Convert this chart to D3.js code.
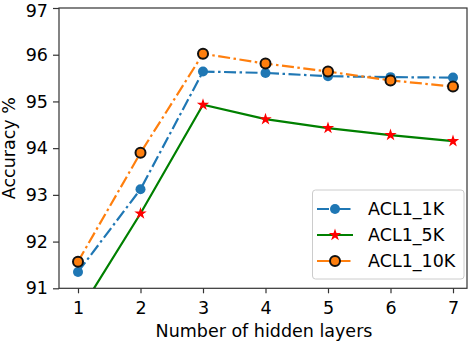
<!DOCTYPE html>
<html><head><meta charset="utf-8">
<script src="https://cdn.jsdelivr.net/npm/d3@7"></script>
<style>body{margin:0;background:#fff}svg{display:block}text{font-family:"DejaVu Sans",sans-serif}</style>
</head><body><svg id="c" width="474" height="344"></svg>
<script>
const layers = [1,2,3,4,5,6,7];
const acl1K  = [91.35, 93.12, 95.64, 95.61, 95.54, 95.52, 95.51];
const acl5K  = [90.45, 92.60, 94.93, 94.62, 94.43, 94.28, 94.15];
const acl10K = [91.57, 93.90, 96.02, 95.81, 95.64, 95.45, 95.32];
const yTicks = [91,92,93,94,95,96,97];
const seriesNames = ["ACL1_1K","ACL1_5K","ACL1_10K"];

const FS = 17.5;
const svg = d3.select("#c");
const L=59, R=467, T=8, B=288.3;
const x = d3.scaleLinear().domain([0.696,7.224]).range([L,R]);
const y = d3.scaleLinear().domain([91,97]).range([B,T]);

svg.append("clipPath").attr("id","pc").append("rect")
  .attr("x",L).attr("y",T).attr("width",R-L).attr("height",B-T);

const DASH = "12,3.5,2.5,3.5";
const series = [
  {name:seriesNames[0], vals:acl1K, color:"#1f77b4", dash:DASH, marker:"circle"},
  {name:seriesNames[1], vals:acl5K, color:"#008000", dash:null, marker:"star"},
  {name:seriesNames[2], vals:acl10K, color:"#ff7f0e", dash:DASH, marker:"ecircle"}
];
const line = d3.line().x((d,i)=>x(layers[i])).y(d=>y(d));
const star = d3.symbol().type(d3.symbolStar).size(48);

const g = svg.append("g").attr("clip-path","url(#pc)");
series.forEach(s=>{
  g.append("path").attr("d",line(s.vals)).attr("fill","none")
    .attr("stroke",s.color).attr("stroke-width",2.2)
    .attr("stroke-dasharray",s.dash);
});
function drawMarker(sel, s, cx, cy){
  if(s.marker==="circle") sel.append("circle").attr("cx",cx).attr("cy",cy).attr("r",5).attr("fill",s.color);
  else if(s.marker==="star") sel.append("path").attr("d",star()).attr("transform",`translate(${cx},${cy})`).attr("fill","#ff0000");
  else sel.append("circle").attr("cx",cx).attr("cy",cy).attr("r",5).attr("fill",s.color).attr("stroke","#111").attr("stroke-width",2);
}
series.forEach(s=>{
  s.vals.forEach((v,i)=>drawMarker(g,s,x(layers[i]),y(v)));
});

svg.append("rect").attr("x",L).attr("y",T).attr("width",R-L).attr("height",B-T)
  .attr("fill","none").attr("stroke","#333").attr("stroke-width",1.2);

const xa = svg.append("g").attr("transform",`translate(0,${B})`)
  .call(d3.axisBottom(x).tickValues(layers).tickFormat(d3.format("d")).tickSize(5).tickPadding(8.5));
const ya = svg.append("g").attr("transform",`translate(${L},0)`)
  .call(d3.axisLeft(y).tickValues(yTicks).tickFormat(d3.format("d")).tickSize(6).tickPadding(5));
[xa,ya].forEach(a=>{
  a.select(".domain").remove();
  a.selectAll("line").attr("stroke","#333").attr("stroke-width",1.2);
  a.selectAll("text").attr("font-size",FS).attr("fill","#000").style("font-family","DejaVu Sans");
});
ya.selectAll(".tick text").filter(d=>d===97).attr("dy","0.5em");

svg.append("text").attr("x",264).attr("y",337).attr("text-anchor","middle")
  .attr("font-size",FS).text("Number of hidden layers");
svg.append("text").attr("transform",`translate(15,${(T+B)/2}) rotate(-90)`).attr("text-anchor","middle")
  .attr("font-size",FS).text("Accuracy %");

const lg = svg.append("g");
lg.append("rect").attr("x",312.5).attr("y",190).attr("width",151.5).attr("height",89)
  .attr("rx",3).attr("fill","#fff").attr("fill-opacity",0.9).attr("stroke","#ccc").attr("stroke-width",1);
const rowsY=[209,235,261];
series.forEach((s,i)=>{
  const yy=rowsY[i];
  lg.append("path").attr("d",`M317,${yy}H353`).attr("stroke",s.color).attr("stroke-width",2.2)
    .attr("fill","none").attr("stroke-dasharray",s.dash);
  drawMarker(lg,s,335,yy);
  lg.append("text").attr("x",368).attr("y",yy+6.3).attr("font-size",FS).text(s.name);
});
</script></body></html>
